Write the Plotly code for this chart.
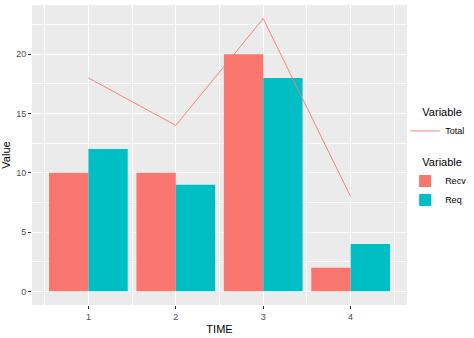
import plotly.graph_objects as go

time = [1, 2, 3, 4]
recv = [10, 10, 20, 2]
req = [12, 9, 18, 4]
total = [18, 14, 23, 8]

RED = "#F8766D"
TEAL = "#00BFC4"
FONT = "Liberation Sans, Arial, sans-serif"
PAD = "\u00a0" * 4

fig = go.Figure()
fig.add_trace(go.Scatter(x=time, y=total, mode="lines", name="Total",
                         line=dict(color=RED, width=0.9),
                         legendgroup="g1", legendgrouptitle_text=PAD + "Variable"))
fig.add_trace(go.Bar(x=time, y=recv, name="Recv", marker=dict(color=RED, line_width=0),
                     legendgroup="g2", legendgrouptitle_text=PAD + "Variable"))
fig.add_trace(go.Bar(x=time, y=req, name="Req", marker=dict(color=TEAL, line_width=0),
                     legendgroup="g2", legendgrouptitle_text=PAD + "Variable"))

fig.update_layout(
    width=474, height=338,
    margin=dict(l=32, r=67, t=5, b=33, autoexpand=False),
    paper_bgcolor="white", plot_bgcolor="#EBEBEB",
    barmode="group", bargap=0.1, bargroupgap=0,
    font=dict(family=FONT, color="#000000", size=11),
    legend=dict(x=0.995, xanchor="left", y=0.692, yanchor="top",
                traceorder="grouped", tracegroupgap=12,
                font=dict(size=9, color="#000000"),
                grouptitlefont=dict(size=11, color="#000000"),
                itemwidth=30, bgcolor="rgba(0,0,0,0)"),
    showlegend=True,
)
fig.update_xaxes(
    range=[0.355, 4.645], tickvals=time, ticktext=[str(t) for t in time],
    showgrid=True, gridcolor="white", gridwidth=1, zeroline=False,
    ticks="outside", ticklen=3, tickcolor="#333333", tickwidth=1,
    tickfont=dict(size=9, color="#4D4D4D"),
    title=dict(text="TIME", font=dict(size=11), standoff=4),
    minor=dict(tick0=0.5, dtick=1, showgrid=True, gridcolor="white", gridwidth=0.5),
    showline=False,
)
fig.update_yaxes(
    range=[-1.15, 24.15], tickvals=[0, 5, 10, 15, 20],
    showgrid=True, gridcolor="white", gridwidth=1, zeroline=False,
    ticks="outside", ticklen=3, tickcolor="#333333", tickwidth=1,
    tickfont=dict(size=9, color="#4D4D4D"),
    title=dict(text="Value", font=dict(size=11), standoff=4),
    minor=dict(tick0=2.5, dtick=5, showgrid=True, gridcolor="white", gridwidth=0.5),
    showline=False,
)

fig.write_html("out.html")
